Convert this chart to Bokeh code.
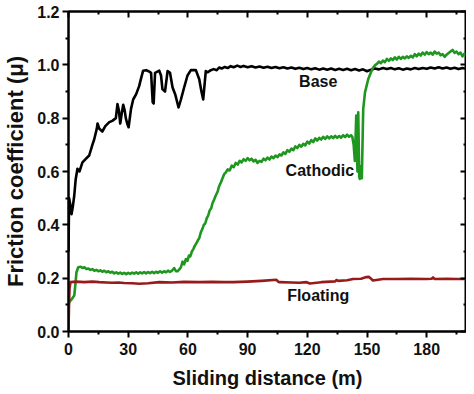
from bokeh.plotting import figure
from bokeh.models import (LinearAxis, FixedTicker, PrintfTickFormatter,
                          Range1d, ColumnDataSource)
from bokeh.core.properties import value
from bokeh.embed import file_html
from bokeh.resources import INLINE

# ---------------- data ----------------
base_x = [0, 0.3, 0.8, 1.5, 2.2, 2.9, 3.6, 4.5, 5.5, 7, 8.7, 10.4, 12, 12.9, 14.2,
          14.6, 15.5, 17, 18.5, 20.5, 22, 23.8, 24.6, 25.3, 26, 26.8, 27.5, 28.2,
          28.8, 29.5, 30.2, 31.4, 32.5, 34, 35.5, 36.5, 37.5, 39, 40.5, 41.5, 42.3,
          42.8, 43.5, 45.6, 46.5, 47.2, 48.5, 49.8, 51, 52.3, 53.6, 55.3, 56.5,
          58.1, 59.8, 61.5, 64, 65.7, 66.8, 67.7, 69, 70, 71.5, 73, 74.5, 75.7, 77,
          78.5, 80, 81.5, 83, 84.8, 86.5, 88, 90, 92, 94, 96, 98, 100, 102, 104, 106,
          108, 110, 112, 114, 116, 118, 120, 122, 124, 126, 128, 130, 132, 134, 136,
          138, 140, 142, 144, 146, 148, 150, 152, 154, 156, 158, 160, 162, 164, 166,
          168, 170, 172, 174, 176, 178, 180, 182, 184, 186, 188, 190, 192, 194, 196,
          198, 200]
base_y = [0.30, 0.50, 0.48, 0.44, 0.47, 0.51, 0.57, 0.61, 0.60, 0.634, 0.647, 0.66,
          0.70, 0.72, 0.76, 0.78, 0.76, 0.75, 0.77, 0.785, 0.79, 0.80, 0.853, 0.83,
          0.78, 0.82, 0.85, 0.83, 0.80, 0.78, 0.766, 0.834, 0.87, 0.89, 0.92, 0.95,
          0.978, 0.98, 0.975, 0.97, 0.86, 0.855, 0.97, 0.978, 0.96, 0.909, 0.90,
          0.977, 0.97, 0.915, 0.89, 0.84, 0.87, 0.915, 0.96, 0.98, 0.98, 0.946,
          0.90, 0.87, 0.977, 0.972, 0.98, 0.984, 0.98, 0.99, 0.986, 0.992, 0.988,
          0.995, 0.991, 0.997, 0.992, 0.996, 0.991, 0.995, 0.99, 0.994, 0.989,
          0.993, 0.988, 0.992, 0.987, 0.991, 0.986, 0.99, 0.985, 0.989, 0.984,
          0.988, 0.983, 0.987, 0.982, 0.986, 0.982, 0.986, 0.981, 0.985, 0.981,
          0.985, 0.98, 0.984, 0.979, 0.983, 0.976, 0.982, 0.986, 0.983, 0.988,
          0.984, 0.988, 0.983, 0.987, 0.982, 0.986, 0.983, 0.988, 0.984, 0.988,
          0.985, 0.99, 0.986, 0.991, 0.986, 0.99, 0.985, 0.989, 0.984, 0.988, 0.985]

cath_x = [0, 0.35, 1.5, 2.9, 3.5, 4, 4.9, 6.2, 7, 8, 9, 10, 11, 12, 13, 14, 15, 16,
          17, 18, 19, 20, 21, 22, 23, 24, 25, 26, 27, 28, 29, 30, 31, 32, 33, 34, 35,
          36, 37, 38, 39, 40, 41, 42, 43, 44, 45, 46, 47, 48, 49, 50, 51, 52, 53.1,
          54, 54.8, 55.6, 56.5, 57.3, 58.1, 59, 59.8, 60.5, 61.2, 62, 62.8, 63.5,
          64.2, 65, 65.7, 66.5, 67.3, 68, 68.7, 69.5, 70.2, 71, 71.7, 72.4, 73.2, 74,
          74.9, 75.7, 76.6, 77.4, 78.2, 79.1, 80, 81, 82, 83, 84, 85, 86, 87, 88, 89,
          90, 91, 92, 93, 94, 95, 96, 97, 98, 99, 100, 101, 102, 103, 104, 105, 106,
          107, 108, 109, 110, 111, 112, 113, 114, 115, 116, 117, 118, 119, 120, 121,
          122, 123, 124, 125, 126, 127, 128, 129, 130, 131, 132, 133, 134, 135, 136,
          137, 138, 139, 140, 141, 142, 142.6, 143.3, 143.9, 144.6, 145.2, 145.6,
          146.1, 146.4, 147, 147.4, 148.1, 149, 149.4, 150.6, 151.1, 152, 153.1, 154,
          155, 156, 157, 158, 159, 160, 161, 162, 163, 164, 165, 166, 167, 168, 169,
          170, 171, 172, 173, 174, 175, 176, 177, 178, 179, 180, 181, 182, 183, 184,
          185, 186, 187, 188, 189, 190, 191, 192, 193, 194, 195, 196, 197, 198, 199,
          200]
cath_y = [0.10, 0.11, 0.12, 0.135, 0.18, 0.222, 0.241, 0.243, 0.238, 0.241, 0.234,
          0.236, 0.231, 0.234, 0.228, 0.231, 0.226, 0.229, 0.224, 0.228, 0.222,
          0.226, 0.221, 0.224, 0.218, 0.222, 0.217, 0.221, 0.216, 0.22, 0.215, 0.22,
          0.216, 0.221, 0.217, 0.222, 0.217, 0.222, 0.218, 0.223, 0.218, 0.223,
          0.219, 0.224, 0.219, 0.224, 0.22, 0.226, 0.221, 0.226, 0.222, 0.228,
          0.223, 0.228, 0.238, 0.226, 0.226, 0.232, 0.241, 0.262, 0.252, 0.272,
          0.265, 0.285, 0.282, 0.30, 0.31, 0.322, 0.33, 0.342, 0.35, 0.372, 0.385,
          0.40, 0.405, 0.425, 0.435, 0.455, 0.462, 0.482, 0.495, 0.51, 0.524, 0.545,
          0.56, 0.575, 0.59, 0.597, 0.608, 0.604, 0.622, 0.616, 0.632, 0.626, 0.64,
          0.634, 0.646, 0.64, 0.65, 0.642, 0.648, 0.638, 0.644, 0.632, 0.64, 0.636,
          0.648, 0.642, 0.652, 0.645, 0.656, 0.65, 0.66, 0.654, 0.664, 0.66, 0.672,
          0.666, 0.68, 0.674, 0.686, 0.68, 0.694, 0.688, 0.70, 0.693, 0.704, 0.698,
          0.712, 0.705, 0.718, 0.71, 0.724, 0.716, 0.726, 0.72, 0.73, 0.722, 0.732,
          0.724, 0.732, 0.725, 0.734, 0.726, 0.733, 0.727, 0.736, 0.729, 0.738,
          0.73, 0.736, 0.73, 0.70, 0.64, 0.81, 0.60, 0.822, 0.58, 0.572, 0.62,
          0.575, 0.834, 0.897, 0.909, 0.946, 0.955, 0.972, 0.99, 0.998, 1.004,
          1.012, 1.006, 1.016, 1.01, 1.022, 1.015, 1.024, 1.018, 1.028, 1.02, 1.03,
          1.022, 1.03, 1.024, 1.032, 1.026, 1.034, 1.028, 1.04, 1.032, 1.042, 1.035,
          1.046, 1.038, 1.048, 1.04, 1.046, 1.038, 1.05, 1.042, 1.046, 1.036, 1.04,
          1.03, 1.038, 1.044, 1.05, 1.056, 1.045, 1.05, 1.04, 1.046, 1.032, 1.042,
          1.038]

float_x = [0, 0.2, 0.5, 1, 3.7, 8, 12, 15.4, 19, 22, 25, 28, 32, 35.5, 40, 45.6, 52,
           58, 65.7, 72, 78, 82.8, 90, 97, 104.5, 105.5, 106.2, 112, 116, 119.6,
           121.3, 127, 134, 134.7, 135.5, 140, 143, 147, 149.7, 151, 153, 158.1,
           165, 172, 179.9, 182.5, 183.2, 184, 190, 195, 200]
float_y = [0.0, 0.08, 0.16, 0.185, 0.187, 0.185, 0.187, 0.185, 0.184, 0.183, 0.184,
           0.182, 0.181, 0.179, 0.181, 0.185, 0.184, 0.186, 0.185, 0.186, 0.185,
           0.185, 0.187, 0.19, 0.194, 0.186, 0.185, 0.184, 0.183, 0.185, 0.18,
           0.185, 0.188, 0.193, 0.19, 0.192, 0.197, 0.198, 0.204, 0.205, 0.191,
           0.197, 0.197, 0.198, 0.197, 0.198, 0.203, 0.197, 0.198, 0.197, 0.197]

label_text = ["Base", "Cathodic", "Floating"]
label_x = [125.5, 126.3, 125.5]
label_y = [0.936, 0.603, 0.135]

x_ticks = [0, 30, 60, 90, 120, 150, 180]
x_minor = [15, 45, 75, 105, 135, 165, 195]
y_ticks = [0.0, 0.2, 0.4, 0.6, 0.8, 1.0, 1.2]
y_minor = [0.1, 0.3, 0.5, 0.7, 0.9, 1.1]

x_title = "Sliding distance (m)"
y_title = "Friction coefficient (\u03bc)"

# ---------------- figure ----------------
FONT = "Liberation Sans"

p = figure(output_backend="svg", toolbar_location=None,
           x_range=Range1d(0, 200), y_range=Range1d(0, 1.2),
           frame_width=398, frame_height=320,
           min_border_left=61, min_border_right=0, min_border_top=11,
           min_border_bottom=58)
p.xgrid.visible = False
p.ygrid.visible = False
p.background_fill_color = "white"
p.outline_line_color = "black"
p.outline_line_width = 2

p.line(base_x, base_y, line_color="black", line_width=2.6, line_join="round")
p.line(cath_x, cath_y, line_color="#1f961f", line_width=2.6, line_join="round")
p.line(float_x, float_y, line_color="#981b1b", line_width=2.6, line_join="round")

src = ColumnDataSource(dict(x=label_x, y=label_y, t=label_text))
p.text("x", "y", text="t", source=src, text_align="center", text_baseline="middle",
       text_font=value(FONT), text_font_style="bold", text_font_size="16px",
       text_color="#111111")


def style(ax, labels=True, inward=False):
    ax.axis_line_width = 2
    ax.axis_line_color = "black"
    ax.major_tick_line_width = 2
    ax.minor_tick_line_width = 2
    if inward:
        ax.major_tick_in, ax.major_tick_out = 6, 0
        ax.minor_tick_in, ax.minor_tick_out = 3, 0
    else:
        ax.major_tick_in, ax.major_tick_out = 0, 6
        ax.minor_tick_in, ax.minor_tick_out = 0, 3
    if labels:
        ax.major_label_text_font = FONT
        ax.major_label_text_font_style = "bold"
        ax.major_label_text_font_size = "16px"
        ax.major_label_text_color = "#111111"
        ax.axis_label_text_font = FONT
        ax.axis_label_text_font_style = "bold"
        ax.axis_label_text_color = "#111111"
    else:
        ax.major_label_text_font_size = "1px"
        ax.major_label_text_color = None
        ax.major_label_standoff = 0


xa = p.xaxis[0]
xa.ticker = FixedTicker(ticks=x_ticks, minor_ticks=x_minor)
style(xa)
xa.axis_label = x_title
xa.axis_label_text_font_size = "20px"
xa.major_label_standoff = 5
xa.axis_label_standoff = 9

ya = p.yaxis[0]
ya.ticker = FixedTicker(ticks=y_ticks, minor_ticks=y_minor)
ya.formatter = PrintfTickFormatter(format="%.1f")
style(ya)
ya.axis_label = y_title
ya.axis_label_text_font_size = "22px"
ya.major_label_standoff = 3
ya.axis_label_standoff = 6

top = LinearAxis(ticker=FixedTicker(ticks=x_ticks, minor_ticks=x_minor))
style(top, labels=False, inward=True)
p.add_layout(top, "above")
right = LinearAxis(ticker=FixedTicker(ticks=y_ticks, minor_ticks=y_minor))
style(right, labels=False, inward=True)
p.add_layout(right, "right")

open("out.html", "w").write(file_html(p, INLINE))
